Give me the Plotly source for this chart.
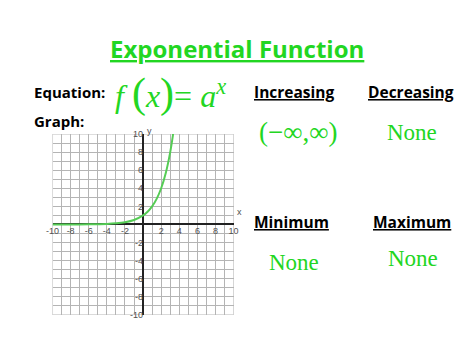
import plotly.graph_objects as go

# ---- data ----
curve_x = [-10, -8, -6, -4, -3, -2, -1, 0, 0.5, 1, 1.5, 2, 2.5, 3, 3.32]
curve_y = [0.001, 0.004, 0.016, 0.06, 0.125, 0.25, 0.5, 1, 1.41, 2, 2.83, 4, 5.66, 8, 10]
grid_vals = list(range(-10, 11))
label_vals = [-10, -8, -6, -4, -2, 2, 4, 6, 8, 10]
tick_labels = ["-10", "-8", "-6", "-4", "-2", "2", "4", "6", "8", "10"]

title_text = "Exponential Function"
headings = ["Increasing", "Decreasing", "Minimum", "Maximum"]
answers = ["(−∞,∞)", "None", "None", "None"]

W, H = 474, 355
GREEN = "#22d622"
CURVE = "#55cc55"
GRID = "#b4b4b4"
SANS = "Open Sans, Lato, sans-serif"
SERIF = "Liberation Serif, Times New Roman, serif"

def px(x):
    return x / W

def py(y):
    return 1 - y / H

x0, x1 = 46.7, 232.5
y0, y1 = 132.7, 319.0
xdom = [px(x0), px(x1)]
ydom = [py(y1), py(y0)]

fig = go.Figure()
fig.add_trace(go.Scatter(x=curve_x, y=curve_y, mode="lines",
                         line=dict(color=CURVE, width=2, shape="spline"),
                         hoverinfo="skip", cliponaxis=True))

axis_common = dict(range=[-10, 10], tickmode="array", tickvals=label_vals, ticktext=tick_labels,
                   showgrid=True, gridcolor=GRID, gridwidth=1,
                   minor=dict(tickmode="array", tickvals=grid_vals, showgrid=True,
                              gridcolor=GRID, gridwidth=1, ticks=""),
                   zeroline=True, zerolinecolor="#222222", zerolinewidth=2,
                   showline=False, ticks="", fixedrange=True, tickangle=0,
                   tickfont=dict(family="Liberation Sans, Arial", size=9, color="#505050"))

fig.update_layout(
    width=W, height=H, margin=dict(l=0, r=0, t=0, b=0),
    paper_bgcolor="white", plot_bgcolor="white", showlegend=False,
    xaxis=dict(domain=xdom, anchor="free", position=(ydom[0] + ydom[1]) / 2,
               ticklabelstandoff=0, **axis_common),
    yaxis=dict(domain=ydom, anchor="free", position=(xdom[0] + xdom[1]) / 2,
               ticklabelstandoff=0, **axis_common),
)

# border of grid
fig.add_shape(type="rect", xref="x", yref="y", x0=-10, x1=10, y0=-10, y1=10,
              line=dict(color=GRID, width=1), layer="below")

ann = []
def text(s, x, y, size, color="black", family=SANS, xanchor="center"):
    ann.append(dict(text=s, x=px(x), y=py(y), xref="paper", yref="paper",
                    xanchor=xanchor, yanchor="middle", showarrow=False,
                    borderpad=0,
                    font=dict(size=size, color=color, family=family)))

text("<b><u>%s</u></b>" % title_text, 236, 45, 24, GREEN)
text("<b>Equation:</b>", 27, 90, 15, xanchor="left")
text("<b>Graph:</b>", 27, 119, 15, xanchor="left")

formula = ('<i>f</i> <span style="font-size:42px">(</span><i>x</i>'
           '<span style="font-size:42px">)</span>= <i>a</i><sup><i>x</i></sup>')
text(formula, 168, 91, 32, GREEN, SERIF)

head_pos = [(294, 90), (414, 90), (292, 223), (416, 223)]
for h, (x, y) in zip(headings, head_pos):
    text("<b><u>%s</u></b>" % h, x, y, 15.5)

ans_pos = [(299, 131, 27), (416, 131, 23), (294, 265, 23), (417, 261, 23)]
for a, (x, y, s) in zip(answers, ans_pos):
    text(a, x, y, s, GREEN, SERIF)

# axis name labels
ann.append(dict(text="x", x=10, y=0.6, xref="x", yref="y", xanchor="left", yanchor="bottom",
                showarrow=False, xshift=1, font=dict(size=9, color="#505050", family="Liberation Sans, Arial")))
ann.append(dict(text="y", x=0, y=10, xref="x", yref="y", xanchor="left", yanchor="bottom",
                showarrow=False, xshift=2, yshift=-4, font=dict(size=9, color="#505050", family="Liberation Sans, Arial")))

fig.update_layout(annotations=ann)
fig.write_html("out.html")
